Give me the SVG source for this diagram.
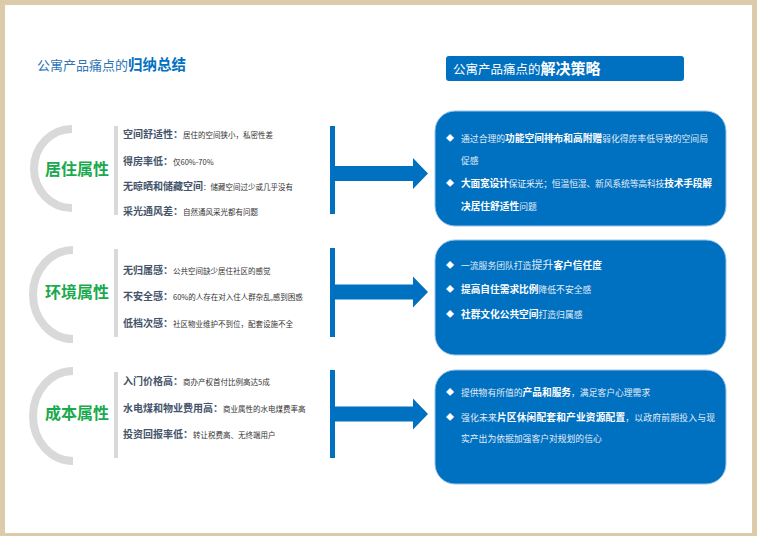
<svg xmlns="http://www.w3.org/2000/svg" width="757" height="536" viewBox="0 0 757 536">
<defs>
<style>
text{font-family:"Noto Sans CJK SC","Noto Sans",sans-serif;}
.arc{fill:none;stroke:#d9d9d9;stroke-width:8;}
.gbar{fill:#d9d9d9;}
.cat{font-size:16px;font-weight:bold;fill:#1aaa4e;text-anchor:middle;}
.h{font-size:10px;font-weight:bold;fill:#44546a;}
.s{font-size:7.5px;font-weight:normal;fill:#333333;}
.box{fill:#0070c0;stroke:#9dc3e6;stroke-width:1;}
.arrow{fill:#0070c0;}
.bt{font-size:8.8px;fill:#e4eef8;}
.bb{font-size:9.7px;font-weight:bold;fill:#ffffff;}
.bul{font-size:8px;fill:#ffffff;}
</style>
</defs>
<rect x="0" y="0" width="757" height="536" fill="#dccba8"/>
<rect x="5" y="5" width="747" height="528" fill="#ffffff"/>

<g id="title-left">
<text x="37" y="70" font-size="13" fill="#2e75b6">公寓产品痛点的<tspan font-size="14.5" font-weight="bold" fill="#0070c0">归纳总结</tspan></text>
</g>
<g id="title-right">
<rect x="446" y="56" width="238" height="25" rx="3" fill="#0070c0"/>
<text x="453" y="73.5" font-size="12.5" fill="#ffffff">公寓产品痛点的<tspan font-size="15" font-weight="bold">解决策略</tspan></text>
</g>

<g id="sec1">
<path class="arc" d="M72,129 A38,39.5 0 0 0 72,208"/>
<text class="cat" x="77" y="175">居住属性</text>
<rect class="gbar" x="114" y="126" width="4" height="89"/>
<text class="h" x="123" y="137.5">空间舒适性：<tspan class="s">居住的空间狭小，私密性差</tspan></text>
<text class="h" x="123" y="165">得房率低：<tspan class="s">仅60%-70%</tspan></text>
<text class="h" x="123" y="189.5">无晾晒和储藏空间<tspan class="s">：储藏空间过少或几乎没有</tspan></text>
<text class="h" x="123" y="215">采光通风差：<tspan class="s">自然通风采光都有问题</tspan></text>
</g>

<g id="sec2">
<path class="arc" d="M73,250 A40,44.5 0 0 0 73,339"/>
<text class="cat" x="77" y="298">环境属性</text>
<rect class="gbar" x="114" y="249" width="4" height="88"/>
<text class="h" x="123" y="273.5">无归属感：<tspan class="s">公共空间缺少居住社区的感觉</tspan></text>
<text class="h" x="123" y="300">不安全感：<tspan class="s">60%的人存在对入住人群杂乱,感到困惑</tspan></text>
<text class="h" x="123" y="326.5">低档次感：<tspan class="s">社区物业维护不到位，配套设施不全</tspan></text>
</g>

<g id="sec3">
<path class="arc" d="M73,371 A40,45 0 0 0 73,461"/>
<text class="cat" x="77" y="419">成本属性</text>
<rect class="gbar" x="114" y="372" width="4" height="86"/>
<text class="h" x="123" y="384.5">入门价格高：<tspan class="s">商办产权首付比例高达5成</tspan></text>
<text class="h" x="123" y="411.5">水电煤和物业费用高：<tspan class="s">商业属性的水电煤费率高</tspan></text>
<text class="h" x="123" y="437.5">投资回报率低：<tspan class="s">转让税费高、无终端用户</tspan></text>
</g>

<g id="connectors">
<rect class="arrow" x="330" y="126" width="5" height="88"/>
<path class="arrow" d="M335,166 H413 V158 L428,173.5 L413,189 V181 H335 Z"/>
<rect class="arrow" x="330" y="248" width="5" height="89"/>
<path class="arrow" d="M335,284.5 H413 V276.5 L428,292 L413,307.5 V299.5 H335 Z"/>
<rect class="arrow" x="330" y="370" width="5" height="88"/>
<path class="arrow" d="M335,406.5 H413 V398.5 L428,414 L413,429.5 V421.5 H335 Z"/>
</g>

<g id="box1">
<rect class="box" x="435" y="111" width="291" height="115" rx="20"/>
<text class="bul" x="446" y="141">◆</text>
<text class="bt" x="461" y="141.5" textLength="247" lengthAdjust="spacing">通过合理的<tspan class="bb">功能空间排布和高附赠</tspan>弱化得房率低导致的空间局</text>
<text class="bt" x="461" y="163.5">促感</text>
<text class="bul" x="446" y="186">◆</text>
<text class="bt" x="461" y="186.5" textLength="251" lengthAdjust="spacing"><tspan class="bb">大面宽设计</tspan>保证采光；恒温恒湿、新风系统等高科技<tspan class="bb">技术手段解</tspan></text>
<text class="bt" x="461" y="209.5"><tspan class="bb">决居住舒适性</tspan>问题</text>
</g>

<g id="box2">
<rect class="box" x="435" y="240" width="291" height="115" rx="20"/>
<text class="bul" x="446" y="268">◆</text>
<text class="bt" x="461" y="268.5">一流服务团队打造<tspan font-size="11">提升</tspan><tspan class="bb">客户信任度</tspan></text>
<text class="bul" x="446" y="292">◆</text>
<text class="bt" x="461" y="292.5"><tspan class="bb">提高自住需求比例</tspan>降低不安全感</text>
<text class="bul" x="446" y="317">◆</text>
<text class="bt" x="461" y="317.5"><tspan class="bb">社群文化公共空间</tspan>打造归属感</text>
</g>

<g id="box3">
<rect class="box" x="435" y="370" width="291" height="114" rx="20"/>
<text class="bul" x="446" y="395">◆</text>
<text class="bt" x="461" y="395.5">提供物有所值的<tspan class="bb">产品和服务</tspan>，满足客户心理需求</text>
<text class="bul" x="446" y="420">◆</text>
<text class="bt" x="461" y="420.5" textLength="254" lengthAdjust="spacing">强化未来<tspan class="bb">片区休闲配套和产业资源配置</tspan>，以政府前期投入与现</text>
<text class="bt" x="461" y="441.5">实产出为依据加强客户对规划的信心</text>
</g>
</svg>
